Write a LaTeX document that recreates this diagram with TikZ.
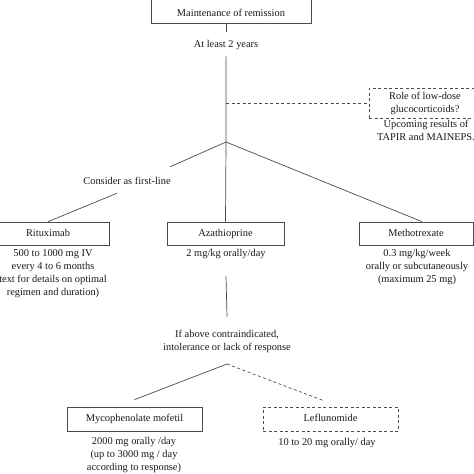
\documentclass[tikz,border=0pt]{standalone}
\usepackage{fontspec}
\setmainfont{Liberation Serif}
\usetikzlibrary{positioning, calc}
\definecolor{linegray}{RGB}{75, 75, 75}
\definecolor{textdark}{RGB}{25, 25, 25}

\begin{document}
\begin{tikzpicture}[x=1pt, y=-1pt,
    box/.style={rectangle, draw=linegray, line width=0.7pt, minimum height=23pt, inner sep=0pt, text height=7pt, text depth=2pt, text=textdark, font=\fontsize{10.4}{13}\selectfont},
    dbox/.style={box, dash pattern=on 3pt off 2.5pt},
    note/.style={align=center, text=textdark, font=\fontsize{10.4}{13}\selectfont},
    link/.style={draw=linegray, line width=0.7pt},
    dlink/.style={link, dash pattern=on 3pt off 2.5pt}
]
    \useasboundingbox (0,0) rectangle (474,474);

    % boxes
    \node[box, minimum width=160pt, text height=19pt, text depth=7pt, anchor=south] (remission) at (231,24) {Maintenance of remission};
    \node[dbox, minimum width=112pt, minimum height=30pt, text height=, text depth=, align=center] (gluco) at (425,103) {Role of low-dose\\glucocorticoids?};
    \node[box, minimum width=122pt] (ritux) at (48,233.5) {Rituximab};
    \node[box, minimum width=117pt] (aza) at (225.5,233.5) {Azathioprine};
    \node[box, minimum width=114pt] (mtx) at (416,233.5) {Methotrexate};
    \node[box, minimum width=135pt, minimum height=24pt] (myco) at (134.5,419) {Mycophenolate mofetil};
    \node[dbox, minimum width=135pt, minimum height=24pt] (lef) at (330.5,419) {Leflunomide};

    % labels and doses
    \node[note] (years) at (226,45) {At least 2 years};
    \node[note] (upcoming) at (426,130) {Upcoming results of\\TAPIR and MAINEPS.};
    \node[note] (firstline) at (127,181) {Consider as first-line};
    \node[note] (rituxdose) at (53,273.5) {500 to 1000 mg IV\\every 4 to 6 months\\text for details on optimal\\regimen and duration)};
    \node[note] (azadose) at (226,254) {2 mg/kg orally/day};
    \node[note] (mtxdose) at (417,267) {0.3 mg/kg/week\\orally or subcutaneously\\(maximum 25 mg)};
    \node[note] (contra) at (227,341.5) {If above contraindicated,\\intolerance or lack of response};
    \node[note] (mycodose) at (134,455.5) {2000 mg orally /day\\(up to 3000 mg / day\\according to response)};
    \node[note] (lefdose) at (327,443) {10 to 20 mg orally/ day};

    \coordinate (fork) at (226,142);
    \coordinate (apex) at (227,364);

    % connectors
    \draw[link] (years.north |- remission.south) -- ([yshift=5pt]years.north);
    \draw[link] ([yshift=-3pt]years.south) -- (fork) -- (aza.north);
    \draw[dlink] (gluco.west -| fork) -- (gluco.west);
    \draw[link] (fork) -- ([xshift=-4pt,yshift=7pt]firstline.north east);
    \draw[link] ([xshift=-10pt,yshift=-5pt]firstline.south) -- (ritux.north);
    \draw[link] (fork) -- ([xshift=6pt]mtx.north);
    \draw[link] ([yshift=-14pt]azadose.south) -- ([yshift=10pt]contra.north);
    \draw[link] (apex) -- ([yshift=7pt]myco.north);
    \draw[dlink] (apex) -- ([xshift=-7pt,yshift=6pt]lef.north);
\end{tikzpicture}
\end{document}
